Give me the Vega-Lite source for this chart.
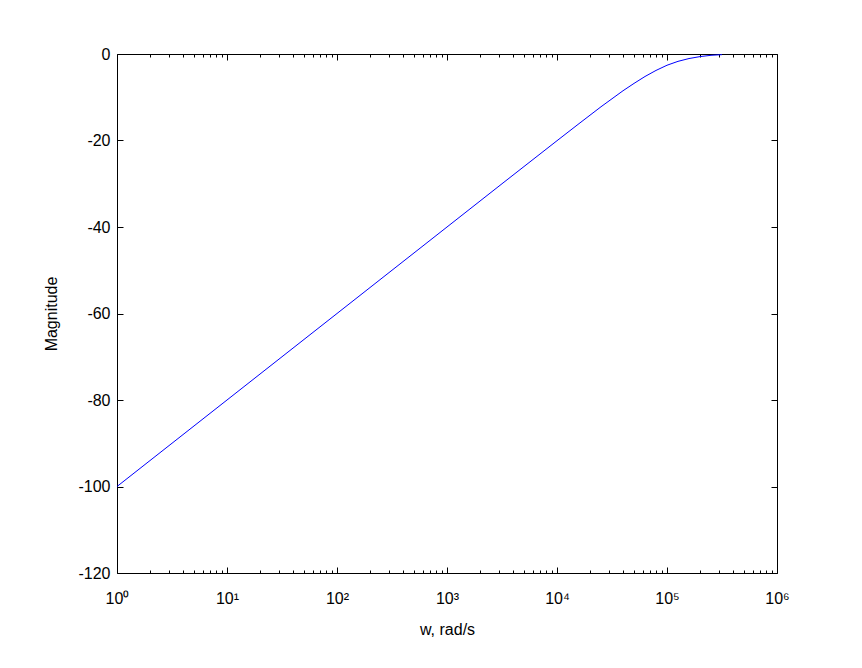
{
  "$schema": "https://vega.github.io/schema/vega-lite/v6.json",
  "autosize": "none",
  "padding": {"left": 117, "top": 54, "right": 85, "bottom": 95},
  "width": 660,
  "height": 519,
  "background": "white",
  "config": {
    "view": {"stroke": "black", "strokeWidth": 1},
    "axis": {
      "grid": false,
      "domain": false,
      "tickColor": "black",
      "labelColor": "black",
      "titleColor": "black",
      "labelFont": "Liberation Sans",
      "titleFont": "Liberation Sans",
      "labelFontSize": 16,
      "titleFontSize": 16,
      "titleFontWeight": "normal",
      "labelFlush": false
    }
  },
  "data": {
    "values": [
      {"w": 1, "mag": -100},
      {"w": 10, "mag": -80},
      {"w": 100, "mag": -60},
      {"w": 1000, "mag": -40},
      {"w": 3162, "mag": -30},
      {"w": 10000, "mag": -20.05},
      {"w": 15849, "mag": -16.1},
      {"w": 25119, "mag": -12.2},
      {"w": 39811, "mag": -8.5},
      {"w": 50119, "mag": -6.8},
      {"w": 63096, "mag": -5.2},
      {"w": 79433, "mag": -3.8},
      {"w": 100000, "mag": -2.6},
      {"w": 125893, "mag": -1.7},
      {"w": 158489, "mag": -1.05},
      {"w": 199526, "mag": -0.6},
      {"w": 251189, "mag": -0.3},
      {"w": 316228, "mag": -0.15}
    ]
  },
  "layer": [
    {
      "mark": {"type": "line", "color": "#0000FF", "strokeWidth": 1},
      "encoding": {
        "x": {
          "field": "w", "type": "quantitative",
          "scale": {"type": "log", "domain": [1, 1000000], "nice": false},
          "axis": {
            "orient": "bottom",
            "values": [1, 10, 100, 1000, 10000, 100000, 1000000],
            "tickSize": -6,
            "labelPadding": 23,
            "labelExpr": "'10' + ['⁰','¹','²','³','⁴','⁵','⁶'][round(log(datum.value)/LN10)]",
            "title": "w, rad/s",
            "titlePadding": 15
          }
        },
        "y": {
          "field": "mag", "type": "quantitative",
          "scale": {"domain": [-120, 0], "nice": false},
          "axis": {
            "orient": "left",
            "values": [-120, -100, -80, -60, -40, -20, 0],
            "tickSize": -6,
            "labelPadding": 13,
            "labelExpr": "replace(datum.label, '\u2212', '-')",
            "title": "Magnitude",
            "titlePadding": 18
          }
        }
      }
    },
    {
      "mark": {"type": "line", "strokeOpacity": 0},
      "encoding": {
        "x": {
          "field": "w", "type": "quantitative",
          "axis": {
            "orient": "top",
            "values": [1, 10, 100, 1000, 10000, 100000, 1000000],
            "tickSize": -6,
            "labels": false,
            "title": null
          }
        },
        "y": {
          "field": "mag", "type": "quantitative",
          "axis": {
            "orient": "right",
            "values": [-120, -100, -80, -60, -40, -20, 0],
            "tickSize": -6,
            "labels": false,
            "title": null
          }
        }
      }
    },
    {
      "mark": {"type": "line", "strokeOpacity": 0},
      "encoding": {
        "x": {
          "field": "w", "type": "quantitative",
          "axis": {
            "orient": "bottom",
            "values": [2,3,4,5,6,7,8,9,20,30,40,50,60,70,80,90,200,300,400,500,600,700,800,900,2000,3000,4000,5000,6000,7000,8000,9000,20000,30000,40000,50000,60000,70000,80000,90000,200000,300000,400000,500000,600000,700000,800000,900000],
            "tickSize": -3,
            "labels": false,
            "title": null
          }
        },
        "y": {"field": "mag", "type": "quantitative", "axis": null}
      }
    },
    {
      "mark": {"type": "line", "strokeOpacity": 0},
      "encoding": {
        "x": {
          "field": "w", "type": "quantitative",
          "axis": {
            "orient": "top",
            "values": [2,3,4,5,6,7,8,9,20,30,40,50,60,70,80,90,200,300,400,500,600,700,800,900,2000,3000,4000,5000,6000,7000,8000,9000,20000,30000,40000,50000,60000,70000,80000,90000,200000,300000,400000,500000,600000,700000,800000,900000],
            "tickSize": -3,
            "labels": false,
            "title": null
          }
        },
        "y": {"field": "mag", "type": "quantitative", "axis": null}
      }
    }
  ],
  "resolve": {"axis": {"x": "independent", "y": "independent"}}
}
